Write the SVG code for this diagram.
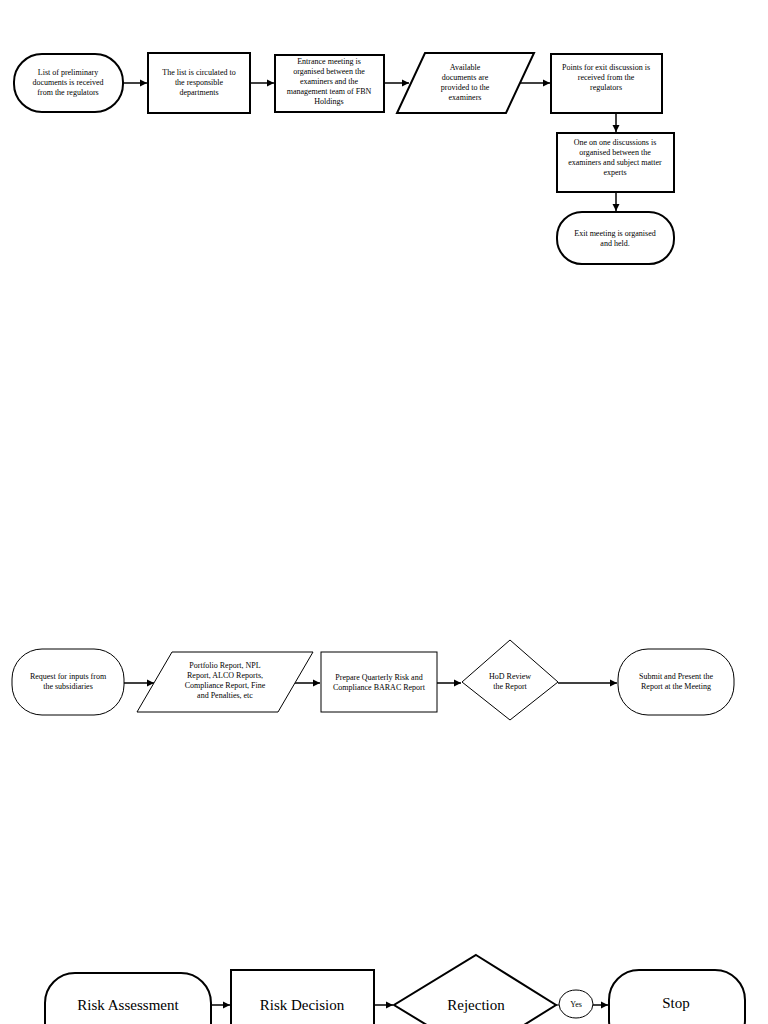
<svg xmlns="http://www.w3.org/2000/svg" width="768" height="1024" viewBox="0 0 768 1024">
<style>
.s{fill:#fff;stroke:#000;stroke-width:2}
.s1{fill:#fff;stroke:#000;stroke-width:1}
.t{font-family:"Liberation Serif",serif;font-size:8px;text-anchor:middle;fill:#000}
.b{font-family:"Liberation Serif",serif;font-size:15px;text-anchor:middle;fill:#000}
.c{stroke:#000;stroke-width:1.5;fill:none;marker-end:url(#a)}
</style>
<defs><marker id="a" markerWidth="6" markerHeight="6" refX="5" refY="3" orient="auto" markerUnits="strokeWidth"><path d="M0,0.5L5,3L0,5.5z"/></marker></defs>
<rect width="768" height="1024" fill="#fff"/>
<g id="connectors">
<line class="c" x1="123" y1="83" x2="147" y2="83"/>
<line class="c" x1="250" y1="83" x2="274" y2="83"/>
<line class="c" x1="384" y1="83" x2="409" y2="83"/>
<line class="c" x1="520" y1="83" x2="550" y2="83"/>
<line class="c" x1="616" y1="113" x2="616" y2="132"/>
<line class="c" x1="616" y1="192" x2="616" y2="211"/>
<line class="c" x1="124" y1="683" x2="154" y2="683"/>
<line class="c" x1="295" y1="683" x2="320" y2="683"/>
<line class="c" x1="437" y1="683" x2="461" y2="683"/>
<line class="c" x1="558" y1="683" x2="617" y2="683"/>
<line class="c" x1="211" y1="1005" x2="230" y2="1005"/>
<line class="c" x1="374" y1="1005" x2="393" y2="1005"/>
<line class="c" x1="593" y1="1005" x2="608" y2="1005"/>
<line stroke="#000" stroke-width="1" x1="556" y1="1005" x2="559" y2="1005"/>
</g>
<g id="n1"><rect class="s" x="14" y="54" width="109" height="58" rx="28"/><text class="t"><tspan x="68" y="75">List of preliminary</tspan><tspan x="68" y="85">documents is received</tspan><tspan x="68" y="95">from the regulators</tspan></text></g>
<g id="n2"><rect class="s" x="148" y="53" width="102" height="60"/><text class="t"><tspan x="199" y="75">The list is circulated to</tspan><tspan x="199" y="85">the responsible</tspan><tspan x="199" y="95">departments</tspan></text></g>
<g id="n3"><rect class="s" x="275" y="55" width="109" height="57"/><text class="t"><tspan x="329" y="64">Entrance meeting is</tspan><tspan x="329" y="74">organised between the</tspan><tspan x="329" y="84">examiners and the</tspan><tspan x="329" y="94">management team of FBN</tspan><tspan x="329" y="104">Holdings</tspan></text></g>
<g id="n4"><polygon class="s" points="425,53 534,53 506,113 397,113"/><text class="t"><tspan x="465" y="70">Available</tspan><tspan x="465" y="80">documents are</tspan><tspan x="465" y="90">provided to the</tspan><tspan x="465" y="100">examiners</tspan></text></g>
<g id="n5"><rect class="s" x="551" y="54" width="111" height="59"/><text class="t"><tspan x="606" y="70">Points for exit discussion is</tspan><tspan x="606" y="80">received from the</tspan><tspan x="606" y="90">regulators</tspan></text></g>
<g id="n6"><rect class="s" x="557" y="133" width="117" height="59"/><text class="t"><tspan x="615" y="145">One on one discussions is</tspan><tspan x="615" y="155">organised between the</tspan><tspan x="615" y="165">examiners and subject matter</tspan><tspan x="615" y="175">experts</tspan></text></g>
<g id="n7"><rect class="s" x="557" y="212" width="117" height="52" rx="25"/><text class="t"><tspan x="615" y="236">Exit meeting is organised</tspan><tspan x="615" y="246">and held.</tspan></text></g>
<g id="m1"><rect class="s1" x="12" y="649" width="112" height="66" rx="30"/><text class="t"><tspan x="68" y="679">Request for inputs from</tspan><tspan x="68" y="689">the subsidiaries</tspan></text></g>
<g id="m2"><polygon class="s1" points="172,652 313,652 278,712 137,712"/><text class="t"><tspan x="225" y="668">Portfolio Report, NPL</tspan><tspan x="225" y="678">Report, ALCO Reports,</tspan><tspan x="225" y="688">Compliance Report, Fine</tspan><tspan x="225" y="698">and Penalties, etc</tspan></text></g>
<g id="m3"><rect class="s1" x="321" y="652" width="116" height="60"/><text class="t"><tspan x="379" y="680">Prepare Quarterly Risk and</tspan><tspan x="379" y="690">Compliance BARAC Report</tspan></text></g>
<g id="m4"><polygon class="s1" points="510,640 558,682 510,720 462,682"/><text class="t"><tspan x="510" y="679">HoD Review</tspan><tspan x="510" y="689">the Report</tspan></text></g>
<g id="m5"><rect class="s1" x="618" y="649" width="116" height="66" rx="30"/><text class="t"><tspan x="676" y="679">Submit and Present the</tspan><tspan x="676" y="689">Report at the Meeting</tspan></text></g>
<g id="r1"><rect class="s" x="45" y="973" width="166" height="80" rx="30"/><text class="b" x="128" y="1010">Risk Assessment</text></g>
<g id="r2"><rect class="s" x="231" y="970" width="143" height="80"/><text class="b" x="302" y="1010">Risk Decision</text></g>
<g id="r3"><polygon class="s" points="476,955 556,1005 476,1055 394,1005"/><text class="b" x="476" y="1010">Rejection</text></g>
<g id="r4"><ellipse class="s1" cx="576" cy="1004" rx="17" ry="14"/><text class="t" x="576" y="1007">Yes</text></g>
<g id="r5"><rect class="s" x="609" y="970" width="136" height="80" rx="30"/><text class="b" x="676" y="1008">Stop</text></g>
</svg>
